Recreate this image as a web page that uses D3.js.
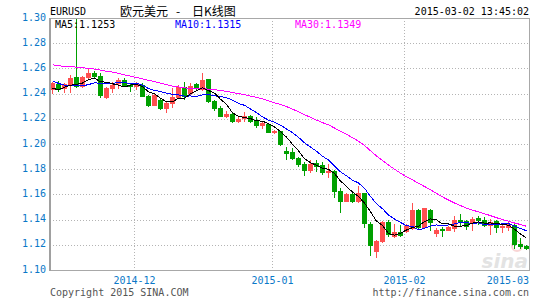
<!DOCTYPE html>
<html><head><meta charset="utf-8">
<script src="https://cdn.jsdelivr.net/npm/d3@7/dist/d3.min.js"></script>
<style>body{margin:0;background:#fff}svg{display:block}</style>
</head><body>
<svg id="chart" width="545" height="300"></svg>
<script>
// ---- data ----
const dates = [
 "2014-11-11","2014-11-12","2014-11-13","2014-11-14","2014-11-17","2014-11-18","2014-11-19","2014-11-20","2014-11-21","2014-11-24","2014-11-25","2014-11-26","2014-11-27","2014-11-28",
 "2014-12-01","2014-12-02","2014-12-03","2014-12-04","2014-12-05","2014-12-08","2014-12-09","2014-12-10","2014-12-11","2014-12-12","2014-12-15","2014-12-16","2014-12-17","2014-12-18","2014-12-19","2014-12-22","2014-12-23","2014-12-24","2014-12-25","2014-12-26","2014-12-29","2014-12-30","2014-12-31",
 "2015-01-01","2015-01-02","2015-01-05","2015-01-06","2015-01-07","2015-01-08","2015-01-09","2015-01-12","2015-01-13","2015-01-14","2015-01-15","2015-01-16","2015-01-19","2015-01-20","2015-01-21","2015-01-22","2015-01-23","2015-01-26","2015-01-27","2015-01-28","2015-01-29","2015-01-30",
 "2015-02-02","2015-02-03","2015-02-04","2015-02-05","2015-02-06","2015-02-09","2015-02-10","2015-02-11","2015-02-12","2015-02-13","2015-02-16","2015-02-17","2015-02-18","2015-02-19","2015-02-20","2015-02-23","2015-02-24","2015-02-25","2015-02-26","2015-02-27",
 "2015-03-02"];
const opens = [1.2429,1.2476,1.2437,1.2468,1.2534,1.2450,1.2521,1.2563,1.2540,1.2363,1.2437,1.2474,1.2508,1.2468,
 1.2450,1.2468,1.2381,1.2302,1.2349,1.2278,1.2315,1.2369,1.2455,1.2394,1.2476,1.2429,1.2516,1.2341,1.2288,1.2217,1.2236,1.2172,1.2198,1.2225,1.2183,1.2145,1.2156,
 1.2087,1.2103,1.1944,1.1939,1.1891,1.1839,1.1786,1.1847,1.1833,1.1767,1.1786,1.1627,1.1542,1.1601,1.1542,1.1609,1.1363,1.1145,1.1225,1.1379,1.1265,1.1304,
 1.1300,1.1325,1.1480,1.1331,1.1476,1.1284,1.1323,1.1310,1.1323,1.1397,1.1389,1.1371,1.1410,1.1397,1.1352,1.1389,1.1331,1.1331,1.1357,1.1204,
 1.1193];
const highs = [1.2492,1.2500,1.2484,1.2548,1.2992,1.2540,1.2595,1.2579,1.2563,1.2452,1.2494,1.2526,1.2521,1.2487,
 1.2494,1.2482,1.2389,1.2397,1.2363,1.2336,1.2444,1.2468,1.2494,1.2482,1.2487,1.2566,1.2516,1.2349,1.2302,1.2262,1.2244,1.2217,1.2252,1.2230,1.2217,1.2177,1.2164,
 1.2111,1.2103,1.1979,1.1971,1.1899,1.1860,1.1873,1.1873,1.1857,1.1839,1.1794,1.1651,1.1609,1.1609,1.1669,1.1609,1.1381,1.1238,1.1389,1.1397,1.1363,1.1357,
 1.1363,1.1529,1.1484,1.1490,1.1482,1.1331,1.1339,1.1349,1.1429,1.1444,1.1397,1.1423,1.1431,1.1423,1.1405,1.1397,1.1357,1.1383,1.1371,1.1252,
 1.1198];
const lows = [1.2397,1.2413,1.2405,1.2405,1.2444,1.2444,1.2516,1.2524,1.2367,1.2357,1.2402,1.2434,1.2455,1.2415,
 1.2429,1.2371,1.2296,1.2300,1.2270,1.2246,1.2288,1.2365,1.2349,1.2389,1.2429,1.2423,1.2323,1.2264,1.2212,1.2204,1.2164,1.2164,1.2177,1.2164,1.2129,1.2119,1.2085,
 1.2079,1.1984,1.1873,1.1873,1.1820,1.1748,1.1767,1.1780,1.1754,1.1728,1.1569,1.1450,1.1540,1.1532,1.1532,1.1333,1.1114,1.1093,1.1214,1.1265,1.1254,1.1265,
 1.1294,1.1315,1.1325,1.1323,1.1312,1.1261,1.1263,1.1310,1.1304,1.1349,1.1317,1.1310,1.1357,1.1339,1.1278,1.1292,1.1294,1.1310,1.1167,1.1167,
 1.1159];
const closes = [1.2484,1.2429,1.2476,1.2526,1.2455,1.2534,1.2563,1.2534,1.2381,1.2444,1.2468,1.2508,1.2463,1.2455,
 1.2474,1.2375,1.2302,1.2389,1.2278,1.2325,1.2375,1.2455,1.2375,1.2463,1.2437,1.2508,1.2336,1.2278,1.2217,1.2236,1.2172,1.2198,1.2225,1.2177,1.2145,1.2164,1.2087,
 1.2106,1.1992,1.1923,1.1881,1.1833,1.1786,1.1839,1.1815,1.1767,1.1786,1.1621,1.1542,1.1601,1.1542,1.1609,1.1363,1.1193,1.1230,1.1379,1.1278,1.1304,1.1273,
 1.1352,1.1476,1.1333,1.1490,1.1375,1.1317,1.1312,1.1339,1.1397,1.1375,1.1344,1.1402,1.1389,1.1352,1.1379,1.1331,1.1352,1.1363,1.1198,1.1185,
 1.1167];
// closes before the visible window (estimated so the MA lines start where the picture shows them)
const priorCloses = [1.2620,1.2670,1.2515,1.2647,1.2648,1.2733,1.2690,1.2627,1.2733,1.2650,1.2816,1.2813,1.2761,1.2800,1.2709,1.2646,1.2656,1.2670,1.2700,1.2736,1.2626,1.2612,1.2525,1.2482,1.2546,1.2490,1.2375,1.2452,1.2412];
const yTicks = [1.10,1.12,1.14,1.16,1.18,1.20,1.22,1.24,1.26,1.28,1.30];
const monthTickDates = ["2014-12-01","2015-01-01","2015-02-02","2015-03-02"];
const monthLabels = ["2014-12","2015-01","2015-02","2015-03"];
const maPeriods = [30, 10, 5];
const maColors = ["#ff00ff", "#0000ff", "#000000"];
const maLabels = ["MA5:1.1253", "MA10:1.1315", "MA30:1.1349"];
const maLabelColors = ["#000000", "#0000ff", "#ff00ff"];
const symbol = "EURUSD";
const titleParts = ["欧元美元", "-", "日K线图"];
const stamp = "2015-03-02 13:45:02";
const copyright = "Copyright 2015 SINA.COM";
const url = "http://finance.sina.com.cn";

// ---- layout ----
const L = 50, R = 529, T = 18, B = 270;
const svg = d3.select("#chart");
const mono = "'DejaVu Sans Mono', monospace";
const axisBlue = "#0a78c8";

const x = d3.scaleBand().domain(dates).range([L - 0.5, R + 0.5]).padding(0);
const step = x.step();
const cx = d => Math.round(x(d) + step / 2) - 0.5; // pixel-aligned centre
const y = d3.scaleLinear().domain([1.10, 1.30]).range([B, T]);

svg.append("rect").attr("width", 545).attr("height", 300).attr("fill", "#fff");

// grid
const grid = svg.append("g").attr("stroke", "#b4b4b4").attr("stroke-dasharray", "1,2").attr("shape-rendering", "crispEdges");
grid.selectAll("line.h").data(yTicks.filter(t => t > 1.10 && t < 1.30)).join("line")
  .attr("x1", L).attr("x2", R)
  .attr("y1", t => Math.round(y(t)) + 0.5).attr("y2", t => Math.round(y(t)) + 0.5);
grid.selectAll("line.v").data(monthTickDates.slice(0, 3)).join("line")
  .attr("x1", d => cx(d) - 2).attr("x2", d => cx(d) - 2)
  .attr("y1", T).attr("y2", B);

// watermark
const wm = svg.append("g").attr("opacity", 0.35);
wm.append("text").attr("x", 528).attr("y", 268).attr("text-anchor", "end")
  .attr("font-family", "'DejaVu Sans', sans-serif").attr("font-weight", "bold").attr("font-style", "italic")
  .attr("font-size", 20).attr("fill", "#b0b0b0").text("sina");
wm.append("circle").attr("cx", 517).attr("cy", 246).attr("r", 5).attr("fill", "none").attr("stroke", "#e88").attr("stroke-width", 2);

// candles
const candles = dates.map((d, i) => ({d, o: opens[i], h: highs[i], l: lows[i], c: closes[i]}));
const up = "#ff5050", down = "#00a000";
const cg = svg.append("g").attr("shape-rendering", "crispEdges");
cg.selectAll("line").data(candles).join("line")
  .attr("x1", k => cx(k.d)).attr("x2", k => cx(k.d))
  .attr("y1", k => Math.round(y(k.h))).attr("y2", k => Math.round(y(k.l)))
  .attr("stroke", k => k.c >= k.o ? up : down);
cg.selectAll("rect").data(candles).join("rect")
  .attr("x", k => cx(k.d) - 2.5)
  .attr("width", 5)
  .attr("y", k => Math.round(y(Math.max(k.o, k.c))))
  .attr("height", k => Math.max(1, Math.round(y(Math.min(k.o, k.c))) - Math.round(y(Math.max(k.o, k.c)))))
  .attr("fill", k => k.c >= k.o ? up : down);

// moving averages
const all = priorCloses.concat(closes);
const off = priorCloses.length;
maPeriods.forEach((p, j) => {
  const vals = closes.map((_, i) => d3.mean(all.slice(off + i - p + 1, off + i + 1)));
  svg.append("path").datum(vals)
    .attr("fill", "none").attr("stroke", maColors[j]).attr("stroke-width", 1)
    .attr("shape-rendering", "crispEdges")
    .attr("d", d3.line().x((v, i) => cx(dates[i])).y(v => y(v)));
});

// frame
svg.append("rect").attr("x", L + 0.5).attr("y", T + 0.5).attr("width", R - L).attr("height", B - T)
  .attr("fill", "none").attr("stroke", "#a8a8a8").attr("shape-rendering", "crispEdges");
svg.append("line").attr("x1", L).attr("x2", L).attr("y1", T).attr("y2", B + 1)
  .attr("stroke", "#a0a0a0").attr("stroke-width", 2).attr("shape-rendering", "crispEdges");

// y labels
svg.append("g").selectAll("text").data(yTicks).join("text")
  .attr("x", 46).attr("y", t => y(t) + 2.5).attr("text-anchor", "end")
  .attr("font-family", mono).attr("font-size", 10).attr("fill", axisBlue)
  .text(t => t.toFixed(2));

// x labels
svg.append("g").selectAll("text").data(monthTickDates).join("text")
  .attr("x", (d, i) => i === monthTickDates.length - 1 ? R : cx(d) - 2)
  .attr("y", 283.5)
  .attr("text-anchor", (d, i) => i === monthTickDates.length - 1 ? "end" : "middle")
  .attr("font-family", mono).attr("font-size", 10).attr("fill", axisBlue)
  .text((d, i) => monthLabels[i]);

// header
svg.append("text").attr("x", 50).attr("y", 15).attr("font-family", mono).attr("font-size", 10).attr("fill", "#000").text(symbol);
const tt = svg.append("text").attr("y", 15.5).attr("font-family", "'Noto Sans CJK SC', sans-serif").attr("font-size", 12).attr("fill", "#000");
tt.append("tspan").attr("x", 120).text(titleParts[0]);
tt.append("tspan").attr("x", 176).text(titleParts[1]);
tt.append("tspan").attr("x", 192).text(titleParts[2]);
svg.append("text").attr("x", 529).attr("y", 15).attr("text-anchor", "end").attr("font-family", mono).attr("font-size", 10).attr("fill", "#000").text(stamp);
const maX = [55, 175, 295];
maLabels.forEach((s, i) => {
  svg.append("text").attr("x", maX[i]).attr("y", 28).attr("font-family", mono).attr("font-size", 10)
    .attr("fill", maLabelColors[i]).text(s);
});

// footer
svg.append("text").attr("x", 50).attr("y", 296).attr("font-family", mono).attr("font-size", 10).attr("fill", "#555").text(copyright);
svg.append("text").attr("x", 529).attr("y", 296).attr("text-anchor", "end").attr("font-family", mono).attr("font-size", 10).attr("fill", "#555").text(url);
</script>
</body></html>
